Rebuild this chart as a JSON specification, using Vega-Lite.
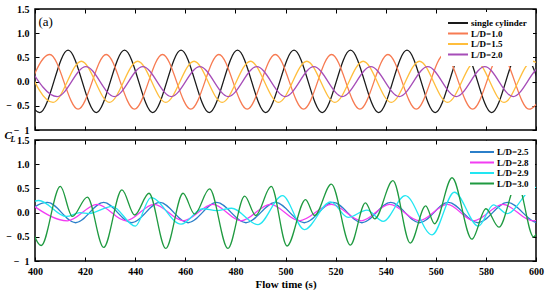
{
  "$schema": "https://vega.github.io/schema/vega-lite/v6.json",
  "padding": {"left": 3, "top": 3, "right": 0, "bottom": 0},
  "bounds": "flush",
  "config": {
    "view": {"stroke": "black", "strokeWidth": 1.5},
    "font": "Liberation Serif",
    "axis": {
      "domain": false, "grid": false, "tickColor": "black", "tickSize": -4, "tickWidth": 1,
      "labelPadding": 8, "labelFont": "Liberation Serif", "labelFontWeight": "bold",
      "labelFontSize": 10, "labelColor": "black", "labelFlush": false,
      "titleFont": "Liberation Serif", "titleColor": "black"
    },
    "axisY": {"labelPadding": 10},
    "legend": {
      "orient": "top-right", "offset": 3, "fillColor": "white", "padding": 6,
      "symbolType": "stroke", "symbolStrokeWidth": 2, "symbolSize": 400, "clipHeight": 10,
      "labelFont": "Liberation Serif", "labelFontWeight": "bold", "labelFontSize": 9,
      "labelColor": "black", "labelOffset": 2, "rowPadding": 0.5, "title": null
    }
  },
  "datasets": {
    "top": [
      {"series": "single cylinder", "t": 390.65, "v": 0.65}, {"series": "single cylinder", "t": 401.9, "v": -0.64},
      {"series": "single cylinder", "t": 413.2, "v": 0.65}, {"series": "single cylinder", "t": 424.45, "v": -0.64},
      {"series": "single cylinder", "t": 435.75, "v": 0.65}, {"series": "single cylinder", "t": 447.0, "v": -0.64},
      {"series": "single cylinder", "t": 458.3, "v": 0.65}, {"series": "single cylinder", "t": 469.55, "v": -0.64},
      {"series": "single cylinder", "t": 480.85, "v": 0.65}, {"series": "single cylinder", "t": 492.1, "v": -0.64},
      {"series": "single cylinder", "t": 503.4, "v": 0.65}, {"series": "single cylinder", "t": 514.65, "v": -0.64},
      {"series": "single cylinder", "t": 525.95, "v": 0.65}, {"series": "single cylinder", "t": 537.2, "v": -0.64},
      {"series": "single cylinder", "t": 548.5, "v": 0.65}, {"series": "single cylinder", "t": 559.75, "v": -0.64},
      {"series": "single cylinder", "t": 571.05, "v": 0.65}, {"series": "single cylinder", "t": 582.3, "v": -0.64},
      {"series": "single cylinder", "t": 593.6, "v": 0.65}, {"series": "single cylinder", "t": 604.85, "v": -0.64},

      {"series": "L/D=1.0", "t": 394.7, "v": -0.57}, {"series": "L/D=1.0", "t": 405.9, "v": 0.56},
      {"series": "L/D=1.0", "t": 417.2, "v": -0.57}, {"series": "L/D=1.0", "t": 428.4, "v": 0.56},
      {"series": "L/D=1.0", "t": 439.7, "v": -0.57}, {"series": "L/D=1.0", "t": 450.9, "v": 0.56},
      {"series": "L/D=1.0", "t": 462.2, "v": -0.57}, {"series": "L/D=1.0", "t": 473.4, "v": 0.56},
      {"series": "L/D=1.0", "t": 484.7, "v": -0.57}, {"series": "L/D=1.0", "t": 495.9, "v": 0.56},
      {"series": "L/D=1.0", "t": 507.2, "v": -0.57}, {"series": "L/D=1.0", "t": 518.4, "v": 0.56},
      {"series": "L/D=1.0", "t": 529.7, "v": -0.57}, {"series": "L/D=1.0", "t": 540.9, "v": 0.56},
      {"series": "L/D=1.0", "t": 552.2, "v": -0.57}, {"series": "L/D=1.0", "t": 563.4, "v": 0.56},
      {"series": "L/D=1.0", "t": 574.7, "v": -0.57}, {"series": "L/D=1.0", "t": 585.9, "v": 0.56},
      {"series": "L/D=1.0", "t": 597.2, "v": -0.57}, {"series": "L/D=1.0", "t": 608.4, "v": 0.56},

      {"series": "L/D=1.5", "t": 396.0, "v": 0.42}, {"series": "L/D=1.5", "t": 407.2, "v": -0.43},
      {"series": "L/D=1.5", "t": 418.5, "v": 0.42}, {"series": "L/D=1.5", "t": 429.7, "v": -0.43},
      {"series": "L/D=1.5", "t": 441.0, "v": 0.42}, {"series": "L/D=1.5", "t": 452.2, "v": -0.43},
      {"series": "L/D=1.5", "t": 463.5, "v": 0.42}, {"series": "L/D=1.5", "t": 474.7, "v": -0.43},
      {"series": "L/D=1.5", "t": 486.0, "v": 0.42}, {"series": "L/D=1.5", "t": 497.2, "v": -0.43},
      {"series": "L/D=1.5", "t": 508.5, "v": 0.42}, {"series": "L/D=1.5", "t": 519.7, "v": -0.43},
      {"series": "L/D=1.5", "t": 531.0, "v": 0.42}, {"series": "L/D=1.5", "t": 542.2, "v": -0.43},
      {"series": "L/D=1.5", "t": 553.5, "v": 0.42}, {"series": "L/D=1.5", "t": 564.7, "v": -0.43},
      {"series": "L/D=1.5", "t": 576.0, "v": 0.42}, {"series": "L/D=1.5", "t": 587.2, "v": -0.43},
      {"series": "L/D=1.5", "t": 598.5, "v": 0.42}, {"series": "L/D=1.5", "t": 609.7, "v": -0.43},

      {"series": "L/D=2.0", "t": 397.55, "v": 0.31}, {"series": "L/D=2.0", "t": 408.9, "v": -0.31},
      {"series": "L/D=2.0", "t": 420.3, "v": 0.31}, {"series": "L/D=2.0", "t": 431.65, "v": -0.31},
      {"series": "L/D=2.0", "t": 443.05, "v": 0.31}, {"series": "L/D=2.0", "t": 454.4, "v": -0.31},
      {"series": "L/D=2.0", "t": 465.8, "v": 0.31}, {"series": "L/D=2.0", "t": 477.15, "v": -0.31},
      {"series": "L/D=2.0", "t": 488.55, "v": 0.31}, {"series": "L/D=2.0", "t": 499.9, "v": -0.31},
      {"series": "L/D=2.0", "t": 511.3, "v": 0.31}, {"series": "L/D=2.0", "t": 522.65, "v": -0.31},
      {"series": "L/D=2.0", "t": 534.05, "v": 0.31}, {"series": "L/D=2.0", "t": 545.4, "v": -0.31},
      {"series": "L/D=2.0", "t": 556.8, "v": 0.31}, {"series": "L/D=2.0", "t": 568.15, "v": -0.31},
      {"series": "L/D=2.0", "t": 579.55, "v": 0.31}, {"series": "L/D=2.0", "t": 590.9, "v": -0.31},
      {"series": "L/D=2.0", "t": 602.3, "v": 0.31}, {"series": "L/D=2.0", "t": 613.65, "v": -0.31}
    ],
    "bottom": [
      {"series": "L/D=2.5", "t": 392.5, "v": -0.21}, {"series": "L/D=2.5", "t": 405.0, "v": 0.21},
      {"series": "L/D=2.5", "t": 416.2, "v": -0.21}, {"series": "L/D=2.5", "t": 427.4, "v": 0.21},
      {"series": "L/D=2.5", "t": 438.6, "v": -0.21}, {"series": "L/D=2.5", "t": 449.8, "v": 0.21},
      {"series": "L/D=2.5", "t": 461.1, "v": -0.21}, {"series": "L/D=2.5", "t": 472.5, "v": 0.21},
      {"series": "L/D=2.5", "t": 484.2, "v": -0.21}, {"series": "L/D=2.5", "t": 496.0, "v": 0.21},
      {"series": "L/D=2.5", "t": 507.5, "v": -0.21}, {"series": "L/D=2.5", "t": 519.0, "v": 0.21},
      {"series": "L/D=2.5", "t": 530.5, "v": -0.21}, {"series": "L/D=2.5", "t": 542.0, "v": 0.21},
      {"series": "L/D=2.5", "t": 553.5, "v": -0.21}, {"series": "L/D=2.5", "t": 565.0, "v": 0.21},
      {"series": "L/D=2.5", "t": 576.8, "v": -0.21}, {"series": "L/D=2.5", "t": 588.6, "v": 0.21},
      {"series": "L/D=2.5", "t": 600.8, "v": -0.21}, {"series": "L/D=2.5", "t": 612.0, "v": 0.21},

      {"series": "L/D=2.8", "t": 398.5, "v": 0.17}, {"series": "L/D=2.8", "t": 413.0, "v": -0.17},
      {"series": "L/D=2.8", "t": 424.8, "v": 0.17}, {"series": "L/D=2.8", "t": 436.3, "v": -0.17},
      {"series": "L/D=2.8", "t": 447.5, "v": 0.17}, {"series": "L/D=2.8", "t": 459.2, "v": -0.17},
      {"series": "L/D=2.8", "t": 471.0, "v": 0.17}, {"series": "L/D=2.8", "t": 482.2, "v": -0.17},
      {"series": "L/D=2.8", "t": 494.0, "v": 0.17}, {"series": "L/D=2.8", "t": 505.5, "v": -0.17},
      {"series": "L/D=2.8", "t": 518.3, "v": 0.17}, {"series": "L/D=2.8", "t": 530.3, "v": -0.17},
      {"series": "L/D=2.8", "t": 541.6, "v": 0.17}, {"series": "L/D=2.8", "t": 553.4, "v": -0.17},
      {"series": "L/D=2.8", "t": 564.6, "v": 0.17}, {"series": "L/D=2.8", "t": 575.2, "v": -0.17},
      {"series": "L/D=2.8", "t": 586.8, "v": 0.17}, {"series": "L/D=2.8", "t": 598.6, "v": -0.17},
      {"series": "L/D=2.8", "t": 610.0, "v": 0.17},

      {"series": "L/D=2.9", "t": 392.0, "v": -0.10}, {"series": "L/D=2.9", "t": 401.5, "v": 0.25},
      {"series": "L/D=2.9", "t": 412.5, "v": -0.08}, {"series": "L/D=2.9", "t": 418.0, "v": 0.0},
      {"series": "L/D=2.9", "t": 421.5, "v": -0.02}, {"series": "L/D=2.9", "t": 430.8, "v": 0.13},
      {"series": "L/D=2.9", "t": 440.0, "v": -0.28}, {"series": "L/D=2.9", "t": 446.3, "v": 0.31},
      {"series": "L/D=2.9", "t": 458.3, "v": -0.24}, {"series": "L/D=2.9", "t": 467.0, "v": 0.08},
      {"series": "L/D=2.9", "t": 472.5, "v": 0.04}, {"series": "L/D=2.9", "t": 478.5, "v": 0.09},
      {"series": "L/D=2.9", "t": 489.0, "v": -0.25}, {"series": "L/D=2.9", "t": 498.8, "v": 0.35},
      {"series": "L/D=2.9", "t": 507.5, "v": -0.35}, {"series": "L/D=2.9", "t": 518.0, "v": 0.22},
      {"series": "L/D=2.9", "t": 525.0, "v": -0.10}, {"series": "L/D=2.9", "t": 532.5, "v": 0.05},
      {"series": "L/D=2.9", "t": 539.0, "v": -0.18}, {"series": "L/D=2.9", "t": 547.8, "v": 0.35},
      {"series": "L/D=2.9", "t": 558.5, "v": -0.46}, {"series": "L/D=2.9", "t": 567.4, "v": 0.42},
      {"series": "L/D=2.9", "t": 577.0, "v": -0.28}, {"series": "L/D=2.9", "t": 583.0, "v": 0.16},
      {"series": "L/D=2.9", "t": 588.5, "v": -0.02}, {"series": "L/D=2.9", "t": 599.5, "v": 0.52},
      {"series": "L/D=2.9", "t": 606.0, "v": 0.0},

      {"series": "L/D=3.0", "t": 395.5, "v": 0.35}, {"series": "L/D=3.0", "t": 402.5, "v": -0.68},
      {"series": "L/D=3.0", "t": 410.1, "v": 0.54}, {"series": "L/D=3.0", "t": 414.9, "v": -0.08},
      {"series": "L/D=3.0", "t": 420.9, "v": 0.32}, {"series": "L/D=3.0", "t": 427.4, "v": -0.72},
      {"series": "L/D=3.0", "t": 434.7, "v": 0.47}, {"series": "L/D=3.0", "t": 439.8, "v": -0.05},
      {"series": "L/D=3.0", "t": 445.5, "v": 0.40}, {"series": "L/D=3.0", "t": 452.2, "v": -0.74},
      {"series": "L/D=3.0", "t": 459.1, "v": 0.40}, {"series": "L/D=3.0", "t": 463.7, "v": -0.03},
      {"series": "L/D=3.0", "t": 469.7, "v": 0.49}, {"series": "L/D=3.0", "t": 477.0, "v": -0.74},
      {"series": "L/D=3.0", "t": 483.7, "v": 0.34}, {"series": "L/D=3.0", "t": 488.1, "v": -0.06},
      {"series": "L/D=3.0", "t": 494.3, "v": 0.54}, {"series": "L/D=3.0", "t": 500.6, "v": -0.69},
      {"series": "L/D=3.0", "t": 508.0, "v": 0.27}, {"series": "L/D=3.0", "t": 511.6, "v": -0.06},
      {"series": "L/D=3.0", "t": 518.3, "v": 0.59}, {"series": "L/D=3.0", "t": 525.9, "v": -0.67},
      {"series": "L/D=3.0", "t": 531.9, "v": 0.20}, {"series": "L/D=3.0", "t": 535.6, "v": -0.13},
      {"series": "L/D=3.0", "t": 542.9, "v": 0.66}, {"series": "L/D=3.0", "t": 549.8, "v": -0.63},
      {"series": "L/D=3.0", "t": 555.95, "v": 0.14}, {"series": "L/D=3.0", "t": 559.5, "v": -0.23},
      {"series": "L/D=3.0", "t": 566.5, "v": 0.72}, {"series": "L/D=3.0", "t": 574.4, "v": -0.55},
      {"series": "L/D=3.0", "t": 580.0, "v": 0.08}, {"series": "L/D=3.0", "t": 585.2, "v": -0.30},
      {"series": "L/D=3.0", "t": 592.5, "v": 0.62}, {"series": "L/D=3.0", "t": 599.0, "v": -0.50},
      {"series": "L/D=3.0", "t": 604.0, "v": 0.30}
    ]
  },
  "spacing": 10,
  "resolve": {"scale": {"color": "independent"}},
  "vconcat": [
    {
      "width": 501, "height": 121,
      "resolve": {"axis": {"y": "independent", "x": "independent"}},
      "layer": [
        {
          "data": {"name": "top"},
          "mark": {"type": "line", "interpolate": "monotone", "strokeWidth": 1.3, "clip": true},
          "encoding": {
            "x": {"field": "t", "type": "quantitative", "scale": {"domain": [400, 600], "nice": false, "zero": false},
                  "axis": {"values": [400, 420, 440, 460, 480, 500, 520, 540, 560, 580, 600], "labels": false, "title": null}},
            "y": {"field": "v", "type": "quantitative", "scale": {"domain": [-1, 1.5], "nice": false, "zero": false},
                  "axis": {"values": [-1, -0.5, 0, 0.5, 1, 1.5],
                           "labelExpr": "datum.value < 0 ? '−\u2002' + format(-datum.value, '') : datum.label",
                           "title": "C", "titleAngle": 0, "titleAlign": "left", "titleBaseline": "alphabetic",
                           "titleX": -31, "titleY": 129, "titleFontStyle": "italic", "titleFontWeight": "bold", "titleFontSize": 11}},
            "color": {"field": "series", "type": "nominal",
                      "scale": {"domain": ["single cylinder", "L/D=1.0", "L/D=1.5", "L/D=2.0"],
                                "range": ["#1a1a1a", "#F77B52", "#FFBE3C", "#A64DB8"]}}
          }
        },
        {
          "data": {"values": [{}]},
          "mark": {"type": "rule", "strokeOpacity": 0},
          "encoding": {
            "y": {"datum": 0, "type": "quantitative", "axis": {"orient": "right", "values": [-1, -0.5, 0, 0.5, 1, 1.5], "labels": false, "title": null}}
          }
        },
        {
          "data": {"values": [{}]},
          "mark": {"type": "rule", "strokeOpacity": 0},
          "encoding": {
            "x": {"datum": 500, "type": "quantitative", "axis": {"orient": "top", "values": [400, 420, 440, 460, 480, 500, 520, 540, 560, 580, 600], "labels": false, "title": null}}
          }
        },
        {
          "data": {"values": [{}]},
          "mark": {"type": "text", "align": "left", "baseline": "middle", "font": "Liberation Serif", "fontSize": 13, "color": "black"},
          "encoding": {
            "x": {"datum": 401.4, "type": "quantitative", "axis": null},
            "y": {"datum": 1.24, "type": "quantitative", "axis": null},
            "text": {"value": "(a)"}
          }
        }
      ]
    },
    {
      "width": 501, "height": 121,
      "resolve": {"axis": {"y": "independent", "x": "independent"}},
      "layer": [
        {
          "data": {"name": "bottom"},
          "mark": {"type": "line", "interpolate": "monotone", "strokeWidth": 1.3, "clip": true},
          "encoding": {
            "x": {"field": "t", "type": "quantitative", "scale": {"domain": [400, 600], "nice": false, "zero": false},
                  "axis": {"values": [400, 420, 440, 460, 480, 500, 520, 540, 560, 580, 600], "labelPadding": 9,
                           "title": "Flow time (s)", "titleFontWeight": "bold", "titleFontSize": 11, "titlePadding": 2}},
            "y": {"field": "v", "type": "quantitative", "scale": {"domain": [-1, 1.5], "nice": false, "zero": false},
                  "axis": {"values": [-1, -0.5, 0, 0.5, 1, 1.5],
                           "labelExpr": "datum.value < 0 ? '−\u2002' + format(-datum.value, '') : datum.label",
                           "title": "L", "titleAngle": 0, "titleAlign": "left", "titleBaseline": "alphabetic",
                           "titleX": -25, "titleY": 1.5, "titleFontStyle": "italic", "titleFontWeight": "bold", "titleFontSize": 8}},
            "color": {"field": "series", "type": "nominal",
                      "scale": {"domain": ["L/D=2.5", "L/D=2.8", "L/D=2.9", "L/D=3.0"],
                                "range": ["#2B7FC9", "#F23DF2", "#22E6F2", "#1F9A40"]},
                      "legend": {"symbolSize": 576, "offset": 1}}
          }
        },
        {
          "data": {"values": [{}]},
          "mark": {"type": "rule", "strokeOpacity": 0},
          "encoding": {
            "y": {"datum": 0, "type": "quantitative", "axis": {"orient": "right", "values": [-1, -0.5, 0, 0.5, 1, 1.5], "labels": false, "title": null}}
          }
        },
        {
          "data": {"values": [{}]},
          "mark": {"type": "rule", "strokeOpacity": 0},
          "encoding": {
            "x": {"datum": 500, "type": "quantitative", "axis": {"orient": "top", "values": [400, 420, 440, 460, 480, 500, 520, 540, 560, 580, 600], "labels": false, "title": null}}
          }
        }
      ]
    }
  ]
}
